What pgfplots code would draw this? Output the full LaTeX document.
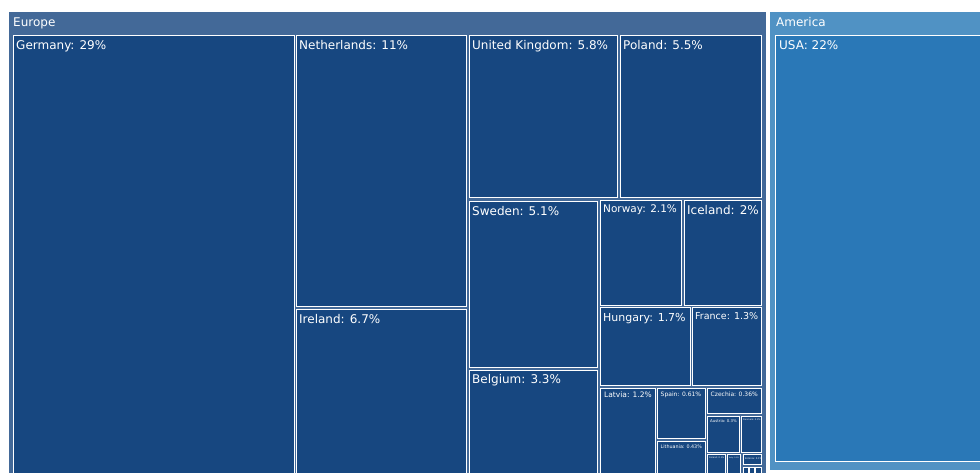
\documentclass[border=0pt]{standalone}
\usepackage{pgfplots}
\pgfplotsset{compat=1.18}
\usepackage{fontspec}
\setmainfont{DejaVu Sans}
\definecolor{euhead}{HTML}{436998}
\definecolor{eucell}{HTML}{174780}
\definecolor{amhead}{HTML}{5092C4}
\definecolor{amcell}{HTML}{2A78B7}
% rectangle: x0, y0, x1, y1 (pixels, y downward), fill colour
\newcommand{\cell}[5]{\addplot[fill=#5, draw=white, line width=0.9pt] coordinates {(#1,#2) (#3,#2) (#3,#4) (#1,#4)} --cycle;}
% label: x, baseline y, size, text
\newcommand{\lab}[4]{\node[anchor=base west, inner sep=0pt, text=white, font=\fontsize{#3}{#3}\selectfont] at (axis cs:#1,#2) {#4};}
\begin{document}
\begin{tikzpicture}
\begin{axis}[
  scale only axis, width=980pt, height=472pt,
  xmin=0, xmax=980, ymin=0, ymax=472, y dir=reverse,
  hide axis, clip=true,
]
% parents
\cell{8}{11}{766}{485}{euhead}
\cell{769}{11}{995}{470}{amhead}
% Europe children
\cell{13}{35}{294}{485}{eucell}
\cell{296}{35}{466}{306}{eucell}
\cell{296}{309}{466}{485}{eucell}
\cell{469}{35}{617}{197}{eucell}
\cell{620}{35}{761}{197}{eucell}
\cell{469}{201}{597}{367}{eucell}
\cell{469}{370}{597}{485}{eucell}
\cell{600}{200}{681}{305}{eucell}
\cell{684}{200}{761}{305}{eucell}
\cell{600}{307}{690}{385}{eucell}
\cell{692}{307}{761}{385}{eucell}
\cell{600}{388}{655}{485}{eucell}
\cell{657}{388}{705}{438}{eucell}
\cell{657}{441}{705}{485}{eucell}
\cell{707}{388}{761}{413}{eucell}
\cell{707}{416}{739}{452}{eucell}
\cell{741}{416}{761}{452}{eucell}
\cell{707}{454}{725}{485}{eucell}
\cell{727}{454}{740}{485}{eucell}
\cell{743}{454}{761}{464}{eucell}
\cell{743}{467}{748}{485}{eucell}
\cell{749}{467}{754}{485}{eucell}
\cell{755}{467}{761}{485}{eucell}
% America children
\cell{775}{35}{995}{461}{amcell}
% labels
\lab{13}{26}{12}{Europe}
\lab{776}{26}{12}{America}
\lab{16}{49}{12}{Germany: 29\%}
\lab{299}{49}{12}{Netherlands: 11\%}
\lab{472}{49}{12}{United Kingdom: 5.8\%}
\lab{623}{49}{12}{Poland: 5.5\%}
\lab{299}{323}{12}{Ireland: 6.7\%}
\lab{472}{215}{12}{Sweden: 5.1\%}
\lab{472}{383.5}{12}{Belgium: 3.3\%}
\lab{603}{212.5}{10.5}{Norway: 2.1\%}
\lab{687}{214.5}{12}{Iceland: 2\%}
\lab{603}{321}{11}{Hungary: 1.7\%}
\lab{695}{319.5}{9.5}{France: 1.3\%}
\lab{604}{397.5}{7.5}{Latvia: 1.2\%}
\lab{660.5}{396.5}{6}{Spain: 0.61\%}
\lab{710.5}{396.5}{6}{Czechia: 0.36\%}
\lab{660.5}{448.5}{4.8}{Lithuania: 0.43\%}
\lab{710}{422.5}{3.9}{Austria: 0.3\%}
\lab{743}{420.5}{2.2}{Denmark: 0.2\%}
\lab{709}{458}{2.2}{Finland: 0.1\%}
\lab{729}{458}{1.8}{Italy: 0.1\%}
\lab{745}{459.5}{2.4}{Estonia: 0.1\%}
\lab{779}{49}{12}{USA: 22\%}
\end{axis}
\pgfresetboundingbox
\useasboundingbox (current axis.south west) rectangle (current axis.north east);
\end{tikzpicture}
\end{document}
